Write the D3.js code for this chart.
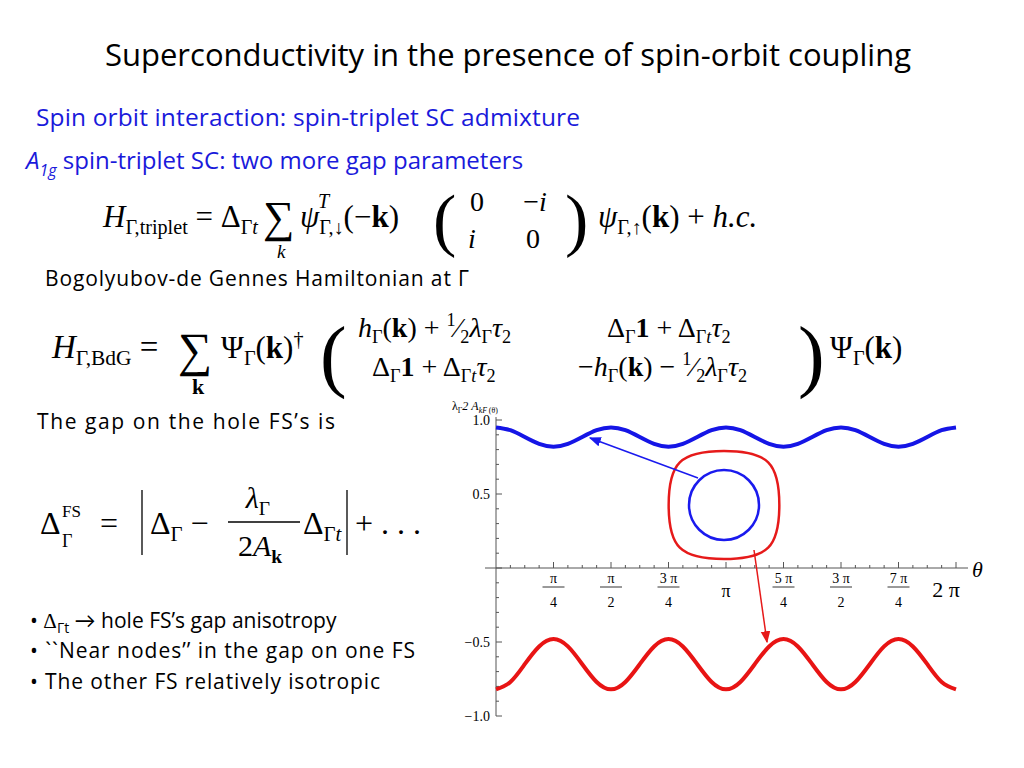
<!DOCTYPE html><html><head><meta charset="utf-8"><script src="https://cdn.jsdelivr.net/npm/d3@7"></script>
<style>body{margin:0;background:#fff}svg{display:block}</style></head><body><svg id="s" width="1024" height="768"></svg>
<script>
// theta samples in units of pi/16 (0..32)
const thetaSteps = d3.range(0,33);
const blueVals = [0.95,0.931,0.885,0.839,0.82,0.839,0.885,0.931,0.95,0.931,0.885,0.839,0.82,0.839,0.885,0.931,0.95,0.931,0.885,0.839,0.82,0.839,0.885,0.931,0.95,0.931,0.885,0.839,0.82,0.839,0.885,0.931,0.95];
const redVals = [-0.82,-0.77,-0.65,-0.53,-0.48,-0.53,-0.65,-0.77,-0.82,-0.77,-0.65,-0.53,-0.48,-0.53,-0.65,-0.77,-0.82,-0.77,-0.65,-0.53,-0.48,-0.53,-0.65,-0.77,-0.82,-0.77,-0.65,-0.53,-0.48,-0.53,-0.65,-0.77,-0.82];
const xTickNum = ["π","π","3 π","π","5 π","3 π","7 π","2 π"];
const xTickDen = ["4","2","4","","4","2","4",""];
const yTicks = [1.0,0.5,-0.5,-1.0];
const yTickLabels = ["1.0","0.5","−0.5","−1.0"];

const svg = d3.select("#s");
const sans = "'Open Sans', Lato, sans-serif", serif = "'Liberation Serif','DejaVu Serif',serif";
const T = (x,y,t,o={}) => svg.append("text").attr("x",x).attr("y",y).text(t)
  .attr("font-family",o.f||sans).attr("font-size",o.s||19).attr("fill",o.c||"#000")
  .attr("font-style",o.i?"italic":null).attr("text-anchor",o.a||"start");
function M(x,y,s,parts,anchor){
  const t=T(x,y,"",{f:serif,s:s,a:anchor}); let cur=0;
  parts.forEach(p=>{let m=p.match(/^([_^*\/]*)(.*)$/); const f=m[1], txt=m[2];
    let dy=0; let sz=s;
    if(f.includes("_")){dy=s*0.22; sz=s*0.65;} if(f.includes("^")){dy=-s*0.4; sz=s*0.65;}
    const sp=t.append("tspan").attr("dy",dy-cur).attr("font-size",sz).text(txt);
    cur=dy;
    if(f.includes("/")) sp.attr("font-style","italic");
    if(f.includes("*")) sp.attr("font-weight","bold");});
  return t;}

T(508,66,"Superconductivity in the presence of spin-orbit coupling",{s:31,a:"middle"});
T(36,126,"Spin orbit interaction: spin-triplet SC admixture",{s:24.5,c:"#1a1adb"}).attr("textLength",544);
const l2 = T(26,169,"",{s:24,c:"#1a1adb"});
l2.append("tspan").attr("font-style","italic").text("A");
l2.append("tspan").attr("font-style","italic").attr("font-size",16).attr("dy",7).text("1g");
l2.append("tspan").attr("dy",-7).text(" spin-triplet SC: two more gap parameters");

// equation 1
M(103,227,31,["/H","_Γ,triplet"," = Δ","_Γ","_/t"]);
T(263,232,"∑",{f:serif,s:44});
T(277,258,"k",{f:serif,s:19,i:1});
M(300,227,31,["/ψ","_Γ,↓","(−","*k",")"]);
T(318,208,"T",{f:serif,s:20,i:1});
T(433,243,"(",{f:serif,s:70});
T(477,211,"0",{f:serif,s:28,a:"middle"}); M(535,211,28,["−","/i"],"middle");
T(472,248,"i",{f:serif,s:28,i:1,a:"middle"}); T(533,248,"0",{f:serif,s:28,a:"middle"});
T(565,243,")",{f:serif,s:70});
M(598,227,31,["/ψ","_Γ,↑","(","*k",") + ","/h.c."]);

T(45,286,"Bogolyubov-de Gennes Hamiltonian at Γ",{s:21}).attr("textLength",424);

// equation 2
M(52,358,33,["/H","_Γ,BdG"," ="]);
T(178,366,"∑",{f:serif,s:48});
T(192,394,"k",{f:serif,s:22}).attr("font-weight","bold");
M(221,358,31,["Ψ","_Γ","(","*k",")","^†"]);
T(320,382,"(",{f:serif,s:80});
M(358,337,28,["/h","_Γ","(","*k",") + ","^1","⁄","_2","/λ","_Γ","/τ","_2"]);
M(607,337,28,["Δ","_Γ","*1"," + Δ","_Γ","_/t","/τ","_2"]);
M(372,376,28,["Δ","_Γ","*1"," + Δ","_Γ","_/t","/τ","_2"]);
M(578,376,28,["−","/h","_Γ","(","*k",") − ","^1","⁄","_2","/λ","_Γ","/τ","_2"]);
T(798,382,")",{f:serif,s:80});
M(830,358,31,["Ψ","_Γ","(","*k",")"]);

T(37,429,"The gap on the hole FS’s is",{s:21}).attr("textLength",298);

// equation 3
M(40,534,32,["Δ"]);
T(62,517,"FS",{f:serif,s:17}); T(62,547,"Γ",{f:serif,s:18});
T(100,534,"=",{f:serif,s:32});
svg.append("line").attr("x1",142).attr("x2",142).attr("y1",490).attr("y2",555).attr("stroke","#000").attr("stroke-width",1.3);
M(150,534,32,["Δ","_Γ"," −"]);
M(258,508,30,["/λ","_Γ"],"middle");
svg.append("line").attr("x1",228).attr("x2",300).attr("y1",522).attr("y2",522).attr("stroke","#000").attr("stroke-width",1.3);
M(260,556,30,["2","/A","_*k"],"middle");
M(303,534,32,["Δ","_Γ","_/t"]);
svg.append("line").attr("x1",347).attr("x2",347).attr("y1",490).attr("y2",555).attr("stroke","#000").attr("stroke-width",1.3);
T(355,534,"+ . . .",{f:serif,s:32});

const b1 = T(30,628,"• ",{s:21});
b1.append("tspan").attr("font-family",serif).text("Δ");
b1.append("tspan").attr("font-size",14).attr("dy",5).text("Γt");
b1.append("tspan").attr("dy",-5).text(" → hole FS’s gap anisotropy");
T(30,658,"• ``Near nodes’’ in the gap on one FS",{s:21}).attr("textLength",385);
T(30,689,"• The other FS relatively isotropic",{s:21}).attr("textLength",350);

// chart
const x = d3.scaleLinear().domain([0,32]).range([496,956]);
const y = d3.scaleLinear().domain([-1,1]).range([716,420]);
const g = svg.append("g");
g.append("line").attr("x1",496).attr("x2",496).attr("y1",y(1.02)).attr("y2",y(-1)).attr("stroke","#555");
g.append("line").attr("x1",485).attr("x2",968).attr("y1",y(0)).attr("y2",y(0)).attr("stroke","#555");
d3.range(-10,11).forEach(k=>{const v=k/10; const maj=(k%5===0);
  g.append("line").attr("x1",496).attr("x2",496+(maj?6:3)).attr("y1",y(v)).attr("y2",y(v)).attr("stroke","#555");});
yTicks.forEach((v,i)=>T(490,y(v)+5,yTickLabels[i],{f:serif,s:14,a:"end"}));
d3.range(1,33).forEach(k=>{const maj=k%4===0;
  g.append("line").attr("x1",x(k)).attr("x2",x(k)).attr("y1",y(0)).attr("y2",y(0)-(maj?6:3)).attr("stroke","#555");});
xTickNum.forEach((n,i)=>{const xx=x((i+1)*4);
  if(xTickDen[i]){T(xx,583,n,{f:serif,s:14,a:"middle"});
    svg.append("line").attr("x1",xx-11).attr("x2",xx+11).attr("y1",587).attr("y2",587).attr("stroke","#000").attr("stroke-width",0.8);
    T(xx,607,xTickDen[i],{f:serif,s:14,a:"middle"});}
  else T(xx+(i===7?-10:0),597,n,{f:serif,s:i===7?22:18,a:"middle"});});
T(972,577,"θ",{f:serif,s:22,i:1});
M(452,410,12,["λ","_Γ","/2 ","/A","_/k","_/F","_ (θ)"]);

const line = d3.line().x((d,i)=>x(thetaSteps[i])).y(d=>y(d)).curve(d3.curveNatural);
g.append("path").attr("d",line(blueVals)).attr("fill","none").attr("stroke","#1515e6").attr("stroke-width",4);
g.append("path").attr("d",line(redVals)).attr("fill","none").attr("stroke","#e81414").attr("stroke-width",4);

// inset
const defs = svg.append("defs");
[["ab","#1a1aee"],["ar","#e61a1a"]].forEach(([id,c])=>defs.append("marker").attr("id",id).attr("viewBox","0 0 10 10").attr("refX",9).attr("refY",5)
  .attr("markerWidth",8).attr("markerHeight",8).attr("orient","auto").append("path").attr("d","M0,1L10,5L0,9z").attr("fill",c));
const redShape = [[724,449],[776,455],[781,505],[776,555],[724,561],[672,555],[667,505],[672,455]];
g.append("path").attr("d",d3.line().curve(d3.curveBasisClosed)(redShape)).attr("fill","none").attr("stroke","#e61a1a").attr("stroke-width",2.5);
g.append("ellipse").attr("cx",724).attr("cy",505).attr("rx",35).attr("ry",35).attr("fill","none").attr("stroke","#1a1aee").attr("stroke-width",2.5);
g.append("line").attr("x1",698).attr("y1",478).attr("x2",590).attr("y2",438).attr("stroke","#1a1aee").attr("stroke-width",1.5).attr("marker-end","url(#ab)");
g.append("line").attr("x1",754).attr("y1",550).attr("x2",767).attr("y2",642).attr("stroke","#e61a1a").attr("stroke-width",1.5).attr("marker-end","url(#ar)");
</script></body></html>
